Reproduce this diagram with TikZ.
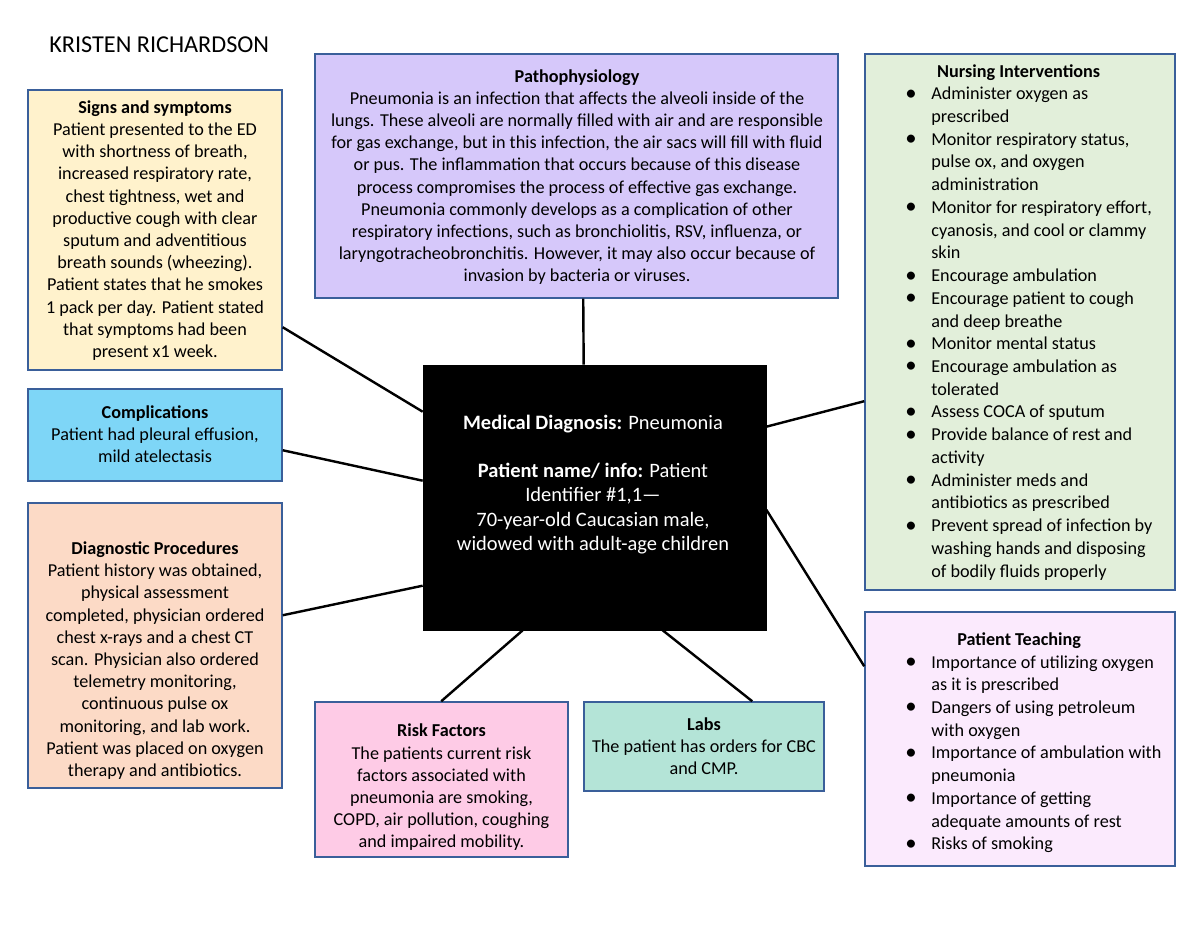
\documentclass[tikz,border=0pt]{standalone}
\usepackage{fontspec}
\setmainfont{Carlito}
\usetikzlibrary{calc}
\definecolor{bord}{HTML}{3A5F9A}
\definecolor{csig}{HTML}{FFF2CC}
\definecolor{cpat}{HTML}{D6C8FA}
\definecolor{cnur}{HTML}{E2EFDA}
\definecolor{ccom}{HTML}{7ED6F7}
\definecolor{cdia}{HTML}{FCDAC6}
\definecolor{crisk}{HTML}{FECBE6}
\definecolor{clab}{HTML}{B4E4D7}
\definecolor{ctea}{HTML}{FBEAFD}
\tikzset{
  box/.style={draw=bord, line width=1pt, inner sep=0pt, rectangle},
  dxbox/.style={fill=black, draw=black, inner sep=0pt, rectangle},
  txt/.style={inner sep=0pt, font=\fontsize{12}{14.65}\selectfont},
  listtxt/.style={inner sep=0pt, anchor=west, font=\fontsize{12}{15}\selectfont},
  conn/.style={draw=black, line width=1.6pt},
}
\newcommand{\bul}{\makebox[17.2pt][l]{\raisebox{-0.3pt}{\scalebox{1.25}{\textbullet}}}}
\begin{document}
\begin{tikzpicture}[x=0.66pt, y=-0.66pt]
\useasboundingbox (0,0) rectangle (1200,927);

\node[anchor=base west, inner sep=0pt, font=\fontsize{16}{19}\selectfont] (title) at (49,52) {KRISTEN RICHARDSON};

% boxes
\node[box, fill=csig, minimum width=167.6pt, minimum height=184.8pt] (sig) at (155,230) {};
\node[box, fill=cpat, minimum width=345.2pt, minimum height=161.0pt] (pat) at (576.5,176) {};
\node[box, fill=cnur, minimum width=204.6pt, minimum height=353.8pt] (nurs) at (1020,322) {};
\node[dxbox, minimum width=226.4pt, minimum height=174.9pt] (dx) at (594.5,497.5) {};
\node[box, fill=ccom, minimum width=167.6pt, minimum height=60.7pt] (comp) at (155,435) {};
\node[box, fill=cdia, minimum width=167.6pt, minimum height=188.1pt] (diag) at (155,645.5) {};
\node[box, fill=crisk, minimum width=167.0pt, minimum height=102.3pt] (risk) at (441.5,779.5) {};
\node[box, fill=clab, minimum width=158.4pt, minimum height=58.7pt] (labs) at (704,746.5) {};
\node[box, fill=ctea, minimum width=204.6pt, minimum height=167.6pt] (teach) at (1020,739) {};

% connectors
\draw[conn] ($(pat.south west)+(269,0)$) -- ($(dx.north west)+(161,0)$);
\draw[conn] ($(sig.north east)+(0,238)$) -- ($(dx.north west)+(0,47)$);
\draw[conn] ($(comp.north east)+(0,62)$) -- ($(dx.north west)+(0,116)$);
\draw[conn] ($(diag.north east)+(0,113)$) -- ($(dx.north west)+(0,221)$);
\draw[conn] ($(dx.south west)+(100,0)$) -- ($(risk.north west)+(127,0)$);
\draw[conn] ($(dx.south west)+(240,0)$) -- ($(labs.north west)+(169,0)$);
\draw[conn] ($(dx.north east)+(0,62)$) -- ($(nurs.north west)+(0,348)$);
\draw[conn] ($(dx.north east)+(0,145)$) -- ($(teach.north west)+(0,55)$);

% texts
\node[txt] (sigt) at (155,231) {\begin{tabular}{@{}c@{}}
\textbf{Signs and symptoms}\\
Patient presented to the ED\\
with shortness of breath,\\
increased respiratory rate,\\
chest tightness, wet and\\
productive cough with clear\\
sputum and adventitious\\
breath sounds (wheezing).\\
Patient states that he smokes\\
1 pack per day. Patient stated\\
that symptoms had been\\
present x1 week.
\end{tabular}};

\node[txt] (patt) at (577,177.5) {\begin{tabular}{@{}c@{}}
\textbf{Pathophysiology}\\
Pneumonia is an infection that affects the alveoli inside of the\\
lungs. These alveoli are normally filled with air and are responsible\\
for gas exchange, but in this infection, the air sacs will fill with fluid\\
or pus. The inflammation that occurs because of this disease\\
process compromises the process of effective gas exchange.\\
Pneumonia commonly develops as a complication of other\\
respiratory infections, such as bronchiolitis, RSV, influenza, or\\
laryngotracheobronchitis. However, it may also occur because of\\
invasion by bacteria or viruses.
\end{tabular}};

\node[txt] (compt) at (155,436) {\begin{tabular}{@{}c@{}}
\textbf{Complications}\\
Patient had pleural effusion,\\
mild atelectasis
\end{tabular}};

\node[txt] (diagt) at (155,661) {\begin{tabular}{@{}c@{}}
\textbf{Diagnostic Procedures}\\
Patient history was obtained,\\
physical assessment\\
completed, physician ordered\\
chest x-rays and a chest CT\\
scan. Physician also ordered\\
telemetry monitoring,\\
continuous pulse ox\\
monitoring, and lab work.\\
Patient was placed on oxygen\\
therapy and antibiotics.
\end{tabular}};

\node[txt] (riskt) at (441.5,788) {\begin{tabular}{@{}c@{}}
\textbf{Risk Factors}\\
The patients current risk\\
factors associated with\\
pneumonia are smoking,\\
COPD, air pollution, coughing\\
and impaired mobility.
\end{tabular}};

\node[txt] (labst) at (704,748) {\begin{tabular}{@{}c@{}}
\textbf{Labs}\\
The patient has orders for CBC\\
and CMP.
\end{tabular}};

\node[inner sep=0pt, text=white, font=\fontsize{13.5}{16}\selectfont] (dxt) at (593,485) {\begin{tabular}{@{}c@{}}
\textbf{Medical Diagnosis:} Pneumonia\\
\\
\textbf{Patient name/ info:} Patient\\
Identifier \#1,1—\\
70-year-old Caucasian male,\\
widowed with adult-age children
\end{tabular}};

\node[listtxt] (nurst) at (905,322.5) {\begin{tabular}{@{}l@{}l@{}}
\multicolumn{2}{@{}l@{}}{\hspace{21pt}\textbf{Nursing Interventions}}\\
\bul & Administer oxygen as\\
 & prescribed\\
\bul & Monitor respiratory status,\\
 & pulse ox, and oxygen\\
 & administration\\
\bul & Monitor for respiratory effort,\\
 & cyanosis, and cool or clammy\\
 & skin\\
\bul & Encourage ambulation\\
\bul & Encourage patient to cough\\
 & and deep breathe\\
\bul & Monitor mental status\\
\bul & Encourage ambulation as\\
 & tolerated\\
\bul & Assess COCA of sputum\\
\bul & Provide balance of rest and\\
 & activity\\
\bul & Administer meds and\\
 & antibiotics as prescribed\\
\bul & Prevent spread of infection by\\
 & washing hands and disposing\\
 & of bodily fluids properly
\end{tabular}};

\node[listtxt] (teacht) at (905,743) {\begin{tabular}{@{}l@{}l@{}}
\multicolumn{2}{@{}l@{}}{\hspace{34.3pt}\textbf{Patient Teaching}}\\
\bul & Importance of utilizing oxygen\\
 & as it is prescribed\\
\bul & Dangers of using petroleum\\
 & with oxygen\\
\bul & Importance of ambulation with\\
 & pneumonia\\
\bul & Importance of getting\\
 & adequate amounts of rest\\
\bul & Risks of smoking
\end{tabular}};
\end{tikzpicture}
\end{document}
